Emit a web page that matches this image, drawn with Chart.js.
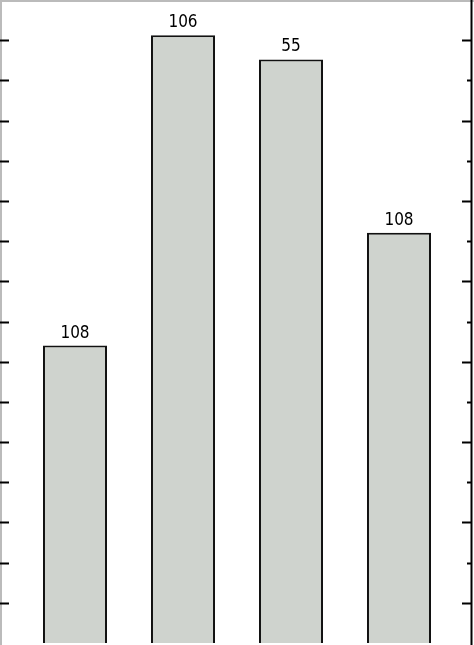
<!DOCTYPE html>
<html><head><meta charset="utf-8">
<script src="https://cdn.jsdelivr.net/npm/chart.js@4/dist/chart.umd.min.js"></script>
<style>html,body{margin:0;padding:0;background:#fff;}#w{width:474px;height:645px;}</style>
</head><body><div id="w"><canvas id="c"></canvas></div>
<script>
const categories = ["A", "B", "C", "D"];
const heights = [7.40, 15.12, 14.52, 10.21];
const counts = ["108", "106", "55", "108"];
const tickValues = [1,2,3,4,5,6,7,8,9,10,11,12,13,14,15];

const frame = {
  id: 'frame',
  afterDraw(chart) {
    const ctx = chart.ctx, y = chart.scales.y;
    ctx.save();
    ctx.strokeStyle = '#bbb'; ctx.lineWidth = 2;
    ctx.beginPath(); ctx.moveTo(1, 645); ctx.lineTo(1, 1); ctx.lineTo(474, 1); ctx.stroke();
    ctx.strokeStyle = '#000'; ctx.lineWidth = 2;
    ctx.beginPath(); ctx.moveTo(471.5, 0); ctx.lineTo(471.5, 645); ctx.stroke();
    tickValues.forEach((t, i) => {
      const p = Math.round(y.getPixelForValue(t)) + 0.5;
      ctx.beginPath(); ctx.moveTo(0, p); ctx.lineTo(9, p); ctx.stroke();
      const len = (t % 2 === 0) ? 5 : 10;
      ctx.beginPath(); ctx.moveTo(472 - len, p); ctx.lineTo(472, p); ctx.stroke();
    });
    const meta = chart.getDatasetMeta(0);
    ctx.fillStyle = '#000';
    ctx.font = '17px "Liberation Sans Narrow", "DejaVu Sans Condensed", sans-serif';
    ctx.textAlign = 'center'; ctx.textBaseline = 'bottom';
    meta.data.forEach((b, i) => ctx.fillText(counts[i], b.x, b.y - 4));
    ctx.restore();
  }
};

new Chart(document.getElementById('c'), {
  type: 'bar',
  data: { labels: categories, datasets: [{ data: heights, backgroundColor: '#cfd3ce', borderColor: '#111', borderWidth: 2, borderSkipped: 'bottom', barPercentage: 0.593, categoryPercentage: 1 }] },
  options: {
    responsive: true, maintainAspectRatio: false, animation: false,
    layout: { padding: { left: 21, right: 21, top: 0, bottom: 2 } },
    plugins: { legend: { display: false }, tooltip: { enabled: false } },
    scales: {
      x: { display: false },
      y: { display: false, min: 0, max: 16 }
    }
  },
  plugins: [frame]
});
</script></body></html>
